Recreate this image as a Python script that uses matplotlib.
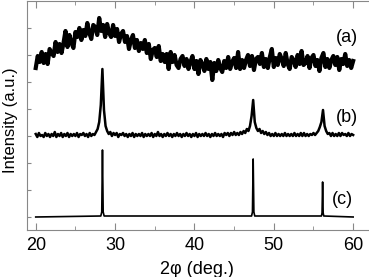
import numpy as np
import matplotlib
matplotlib.use("Agg")
import matplotlib.pyplot as plt
from matplotlib.ticker import MultipleLocator

plt.rcParams['font.family'] = ['Liberation Sans', 'DejaVu Sans']

# (a) amorphous sample, 0.25 deg steps from 20 to 60
two_theta_a = np.arange(20, 60.001, 0.25)
int_a = [
    162, 174, 168, 178,  167, 176, 166, 181,  177, 174, 188, 178,  186, 177, 187, 199,
    183, 195, 187, 182,  198, 193, 202, 190,  200, 194, 207, 197,  191, 205, 203, 195,
    212, 199, 205, 193,  206, 197, 193, 205,  194, 201, 188, 196,  199, 188, 194, 181,
    190, 195, 182, 190,  179, 187, 181, 190,  177, 186, 171, 180,  182, 173, 184, 169,
    176, 168, 176, 161,  178, 168, 175, 165,  162, 171, 174, 164,  171, 161, 168, 174,
    161, 169, 156, 170,  166, 159, 171, 161,  168, 150, 167, 159,  170, 162, 158, 169,
    162, 173, 161, 168,  172, 162, 178, 161,  170, 162, 170, 175,  164, 174, 160, 171,
    173, 166, 177, 163,  171, 162, 173, 181,  163, 172, 165, 176,  171, 164, 177, 166,
    161, 173, 170, 163,  175, 166, 179, 165,  167, 174, 162, 172,  175, 164, 170, 159,
    172, 177, 163, 171,  162, 170, 174, 165,  173, 160, 171, 166,  176, 164, 170, 162,
    169,
]

# (b) crystallised sample, 0.2 deg steps from 20 to 60
two_theta_b = np.arange(20, 60.001, 0.2)
int_b = [
    96, 93, 97, 94, 95,   93, 97, 94, 96, 93,   96, 94, 98, 93, 96,   94, 97, 93, 96, 94,
    97, 93, 96, 94, 96,   94, 97, 93, 96, 95,   97, 94, 96, 93, 97,   94, 96, 95, 98, 101,
    108, 125, 161, 120, 104,  99, 96, 98, 94, 97,  95, 97, 93, 96, 95,  97, 94, 96, 93, 96,
    94, 97, 93, 96, 94,   96, 94, 97, 93, 96,   94, 96, 94, 97, 93,   96, 94, 98, 94, 96,
    93, 96, 94, 97, 94,   96, 93, 96, 94, 97,   94, 96, 93, 96, 94,   97, 94, 96, 93, 96,
    94, 97, 93, 96, 94,   96, 94, 97, 94, 96,   93, 96, 94, 97, 94,   96, 94, 96, 93, 97,
    95, 97, 94, 97, 95,   98, 95, 97, 95, 98,   96, 99, 97, 101, 99,  104, 114, 130, 108, 102,
    99, 101, 97, 99, 96,  98, 95, 97, 94, 96,   94, 97, 94, 96, 94,   96, 94, 97, 94, 96,
    94, 96, 94, 97, 94,   96, 94, 97, 94, 97,   94, 96, 94, 96, 95,   97, 95, 97, 99, 103,
    108, 120, 104, 99, 96,  97, 94, 97, 94, 96,  94, 97, 94, 97, 95,  96, 94, 97, 94, 96,
    95,
]

# (c) reference pattern
two_theta_c = [20, 28.2, 28.32, 28.41, 28.5, 28.62, 47.2, 47.31, 47.4, 47.49, 47.6,
               56.0, 56.08, 56.15, 56.22, 56.3, 60]
int_c = [13, 14, 18, 80, 18, 14, 14, 18, 71, 18, 14, 14, 17, 48, 17, 14, 13]

labels = ['(a)', '(b)', '(c)']
label_x = [59.2, 59.2, 58.7]
label_y = [193, 113, 30]

fig = plt.figure(figsize=(3.69, 2.77), dpi=100)
ax = fig.add_axes([27/369, 47/277, 346/369, 229/277])

ax.plot(two_theta_a, int_a, color='black', lw=3.0)
ax.plot(two_theta_b, int_b, color='black', lw=1.8)
ax.plot(two_theta_c, int_c, color='black', lw=1.2)

for t, x, y in zip(labels, label_x, label_y):
    ax.text(x, y, t, fontsize=13, ha='center', va='center')

ax.set_xlim(18.9, 62.5)
ax.set_ylim(0, 229)
ax.xaxis.set_major_locator(MultipleLocator(10))
ax.xaxis.set_minor_locator(MultipleLocator(5))
ax.set_yticks(np.arange(13, 229, 27))
ax.tick_params(axis='both', which='both', direction='in', colors='#888888',
               labelcolor='black', labelsize=13, top=True, right=False)
ax.tick_params(axis='y', labelleft=False, length=3)
ax.tick_params(axis='x', which='major', length=5, pad=5)
ax.tick_params(axis='x', which='minor', length=3)
for s in ax.spines.values():
    s.set_color('#888888')

ax.set_xlabel('2\u03c6 (deg.)', fontsize=13)
ax.xaxis.set_label_coords(0.49, -0.135)
ax.set_ylabel('Intensity (a.u.)', fontsize=12)
ax.yaxis.set_label_coords(-0.027, 0.48)

fig.savefig('out.png', dpi=100)
